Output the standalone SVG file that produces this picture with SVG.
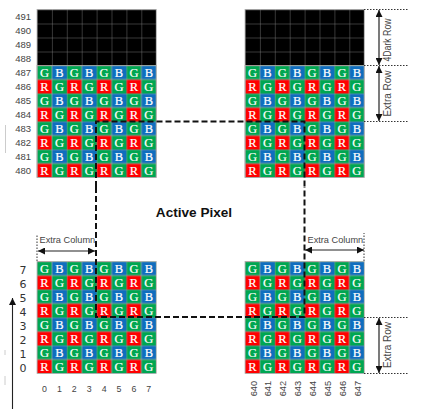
<svg xmlns="http://www.w3.org/2000/svg" width="422" height="409" viewBox="0 0 422 409">
<style>
text{font-family:"Liberation Sans",Arial,sans-serif}
.c{font-family:"Liberation Serif","Times New Roman",serif;font-size:12.5px;fill:#fff;text-anchor:middle;stroke:#fff;stroke-width:.2}
.n{font-size:9.5px;fill:#444;text-anchor:end}
.r{font-size:9.2px;fill:#444;text-anchor:end}
.b{font-size:8.8px;fill:#444;text-anchor:middle}
.s{font-family:"DejaVu Sans",sans-serif;font-size:11px;fill:#333;text-anchor:end}
.l{font-size:10px;fill:#444}
.k{font-size:9.2px;fill:#444}
.d{fill:none;stroke:#111;stroke-width:2;stroke-dasharray:6 3}
.o{fill:none;stroke:#333;stroke-width:1;stroke-dasharray:1.5 1.5}
.a{stroke:#222;stroke-width:1.2;fill:none;marker-start:url(#m);marker-end:url(#m)}
.g{stroke:#aaa;stroke-width:.7}
</style>
<defs>
<marker id="m" viewBox="0 0 10 10" refX="10" refY="5" markerWidth="7" markerHeight="7" orient="auto-start-reverse" markerUnits="userSpaceOnUse"><path d="M0 0L10 5L0 10z" fill="#111"/></marker>
<pattern id="tile" patternUnits="userSpaceOnUse" width="29.8" height="28">
<rect width="14.9" height="14" fill="#00A651"/><rect x="14.9" width="14.9" height="14" fill="#0F6EBE"/>
<rect y="14" width="14.9" height="14" fill="#FF0000"/><rect x="14.9" y="14" width="14.9" height="14" fill="#00A651"/>
<path d="M0 0H29.8M0 14H29.8M0 0V28M14.9 0V28" stroke="#aaa" stroke-width=".7" fill="none"/>
</pattern>
<pattern id="dark" patternUnits="userSpaceOnUse" width="14.9" height="14">
<rect width="14.9" height="14" fill="#000"/><path d="M0 0H14.9M0 0V14" stroke="#888" stroke-width=".8" fill="none"/>
</pattern>
</defs>

<g id="grid-top-left" transform="translate(37 9.5)">
<rect width="119.2" height="56" fill="url(#dark)"/>
<rect y="56" width="119.2" height="112" fill="url(#tile)" class="g"/>
<rect width="119.2" height="168" fill="none" class="g"/>
<text class="c" y="67.5" x="7.5 22.4 37.3 52.2 67.1 82 96.9 111.8">GBGBGBGB</text>
<text class="c" y="81.5" x="7.5 22.4 37.3 52.2 67.1 82 96.9 111.8">RGRGRGRG</text>
<text class="c" y="95.5" x="7.5 22.4 37.3 52.2 67.1 82 96.9 111.8">GBGBGBGB</text>
<text class="c" y="109.5" x="7.5 22.4 37.3 52.2 67.1 82 96.9 111.8">RGRGRGRG</text>
<text class="c" y="123.5" x="7.5 22.4 37.3 52.2 67.1 82 96.9 111.8">GBGBGBGB</text>
<text class="c" y="137.5" x="7.5 22.4 37.3 52.2 67.1 82 96.9 111.8">RGRGRGRG</text>
<text class="c" y="151.5" x="7.5 22.4 37.3 52.2 67.1 82 96.9 111.8">GBGBGBGB</text>
<text class="c" y="165.5" x="7.5 22.4 37.3 52.2 67.1 82 96.9 111.8">RGRGRGRG</text>
</g>
<g id="grid-top-right" transform="translate(245 9.5)">
<rect width="119.2" height="56" fill="url(#dark)"/>
<rect y="56" width="119.2" height="112" fill="url(#tile)" class="g"/>
<rect width="119.2" height="168" fill="none" class="g"/>
<text class="c" y="67.5" x="7.5 22.4 37.3 52.2 67.1 82 96.9 111.8">GBGBGBGB</text>
<text class="c" y="81.5" x="7.5 22.4 37.3 52.2 67.1 82 96.9 111.8">RGRGRGRG</text>
<text class="c" y="95.5" x="7.5 22.4 37.3 52.2 67.1 82 96.9 111.8">GBGBGBGB</text>
<text class="c" y="109.5" x="7.5 22.4 37.3 52.2 67.1 82 96.9 111.8">RGRGRGRG</text>
<text class="c" y="123.5" x="7.5 22.4 37.3 52.2 67.1 82 96.9 111.8">GBGBGBGB</text>
<text class="c" y="137.5" x="7.5 22.4 37.3 52.2 67.1 82 96.9 111.8">RGRGRGRG</text>
<text class="c" y="151.5" x="7.5 22.4 37.3 52.2 67.1 82 96.9 111.8">GBGBGBGB</text>
<text class="c" y="165.5" x="7.5 22.4 37.3 52.2 67.1 82 96.9 111.8">RGRGRGRG</text>
</g>
<g id="grid-bottom-left" transform="translate(37 261.5)">
<rect width="119.2" height="112" fill="url(#tile)" class="g"/>
<text class="c" y="11.5" x="7.5 22.4 37.3 52.2 67.1 82 96.9 111.8">GBGBGBGB</text>
<text class="c" y="25.5" x="7.5 22.4 37.3 52.2 67.1 82 96.9 111.8">RGRGRGRG</text>
<text class="c" y="39.5" x="7.5 22.4 37.3 52.2 67.1 82 96.9 111.8">GBGBGBGB</text>
<text class="c" y="53.5" x="7.5 22.4 37.3 52.2 67.1 82 96.9 111.8">RGRGRGRG</text>
<text class="c" y="67.5" x="7.5 22.4 37.3 52.2 67.1 82 96.9 111.8">GBGBGBGB</text>
<text class="c" y="81.5" x="7.5 22.4 37.3 52.2 67.1 82 96.9 111.8">RGRGRGRG</text>
<text class="c" y="95.5" x="7.5 22.4 37.3 52.2 67.1 82 96.9 111.8">GBGBGBGB</text>
<text class="c" y="109.5" x="7.5 22.4 37.3 52.2 67.1 82 96.9 111.8">RGRGRGRG</text>
</g>
<g id="grid-bottom-right" transform="translate(245 261.5)">
<rect width="119.2" height="112" fill="url(#tile)" class="g"/>
<text class="c" y="11.5" x="7.5 22.4 37.3 52.2 67.1 82 96.9 111.8">GBGBGBGB</text>
<text class="c" y="25.5" x="7.5 22.4 37.3 52.2 67.1 82 96.9 111.8">RGRGRGRG</text>
<text class="c" y="39.5" x="7.5 22.4 37.3 52.2 67.1 82 96.9 111.8">GBGBGBGB</text>
<text class="c" y="53.5" x="7.5 22.4 37.3 52.2 67.1 82 96.9 111.8">RGRGRGRG</text>
<text class="c" y="67.5" x="7.5 22.4 37.3 52.2 67.1 82 96.9 111.8">GBGBGBGB</text>
<text class="c" y="81.5" x="7.5 22.4 37.3 52.2 67.1 82 96.9 111.8">RGRGRGRG</text>
<text class="c" y="95.5" x="7.5 22.4 37.3 52.2 67.1 82 96.9 111.8">GBGBGBGB</text>
<text class="c" y="109.5" x="7.5 22.4 37.3 52.2 67.1 82 96.9 111.8">RGRGRGRG</text>
</g>

<g id="row-labels-top">
<text class="n" x="31" y="19.5">491</text><text class="n" x="31" y="33.5">490</text><text class="n" x="31" y="47.5">489</text><text class="n" x="31" y="61.5">488</text>
<text class="n" x="31" y="75.5">487</text><text class="n" x="31" y="89.5">486</text><text class="n" x="31" y="103.5">485</text><text class="n" x="31" y="117.5">484</text>
<text class="n" x="31" y="131.5">483</text><text class="n" x="31" y="145.5">482</text><text class="n" x="31" y="159.5">481</text><text class="n" x="31" y="173.5">480</text>
</g>
<g id="row-labels-bottom">
<text class="s" x="26.5" y="273.5">7</text><text class="s" x="26.5" y="287.5">6</text><text class="s" x="26.5" y="301.5">5</text><text class="s" x="26.5" y="315.5">4</text>
<text class="s" x="26.5" y="329.5">3</text><text class="s" x="26.5" y="343.5">2</text><text class="s" x="26.5" y="357.5">1</text><text class="s" x="26.5" y="371.5">0</text>
</g>
<g id="col-labels-left">
<text class="b" x="44.5" y="391.5">0</text><text class="b" x="59.4" y="391.5">1</text><text class="b" x="74.3" y="391.5">2</text><text class="b" x="89.2" y="391.5">3</text>
<text class="b" x="104.1" y="391.5">4</text><text class="b" x="119" y="391.5">5</text><text class="b" x="133.9" y="391.5">6</text><text class="b" x="148.8" y="391.5">7</text>
</g>
<g id="col-labels-right">
<text class="r" transform="translate(256.5 381) rotate(-90)">640</text><text class="r" transform="translate(271.4 381) rotate(-90)">641</text>
<text class="r" transform="translate(286.3 381) rotate(-90)">642</text><text class="r" transform="translate(301.2 381) rotate(-90)">643</text>
<text class="r" transform="translate(316.1 381) rotate(-90)">644</text><text class="r" transform="translate(331 381) rotate(-90)">645</text>
<text class="r" transform="translate(345.9 381) rotate(-90)">646</text><text class="r" transform="translate(360.8 381) rotate(-90)">647</text>
</g>

<g id="connectors">
<path class="d" d="M96 187V121.5H304.5V187"/>
<path class="d" d="M96 187V317H304.5V187"/>
<path class="o" d="M364 9.5H408M364 65.5H408M364 121.5H408M364 317.5H408M364 373.5H408"/>
<path class="o" d="M37 261V235M364 261V233"/>
<path class="a" d="M379 10V65"/>
<path class="a" d="M379 66V121"/>
<path class="a" d="M379 318V373"/>
<path class="a" d="M38 251H95"/>
<path class="a" d="M305 250H364"/>
<path d="M12.5 409V298" stroke="#222" stroke-width="1.1" fill="none" marker-end="url(#m)"/>
<path d="M5.5 125V153M5 350V355M5 376V385" stroke="#ccc" fill="none"/>
</g>

<g id="labels">
<text x="194" y="216.5" text-anchor="middle" style="font-weight:bold;font-size:13.6px;fill:#111">Active Pixel</text>
<text class="k" x="39.5" y="243">Extra Column</text>
<text class="k" x="307.5" y="243">Extra Column</text>
<text class="l" text-anchor="middle" textLength="43" lengthAdjust="spacingAndGlyphs" transform="translate(391 40) rotate(-90)">4Dark Row</text>
<text class="l" text-anchor="middle" transform="translate(391 93.5) rotate(-90)">Extra Row</text>
<text class="l" text-anchor="middle" transform="translate(391 345) rotate(-90)">Extra Row</text>
</g>
</svg>
